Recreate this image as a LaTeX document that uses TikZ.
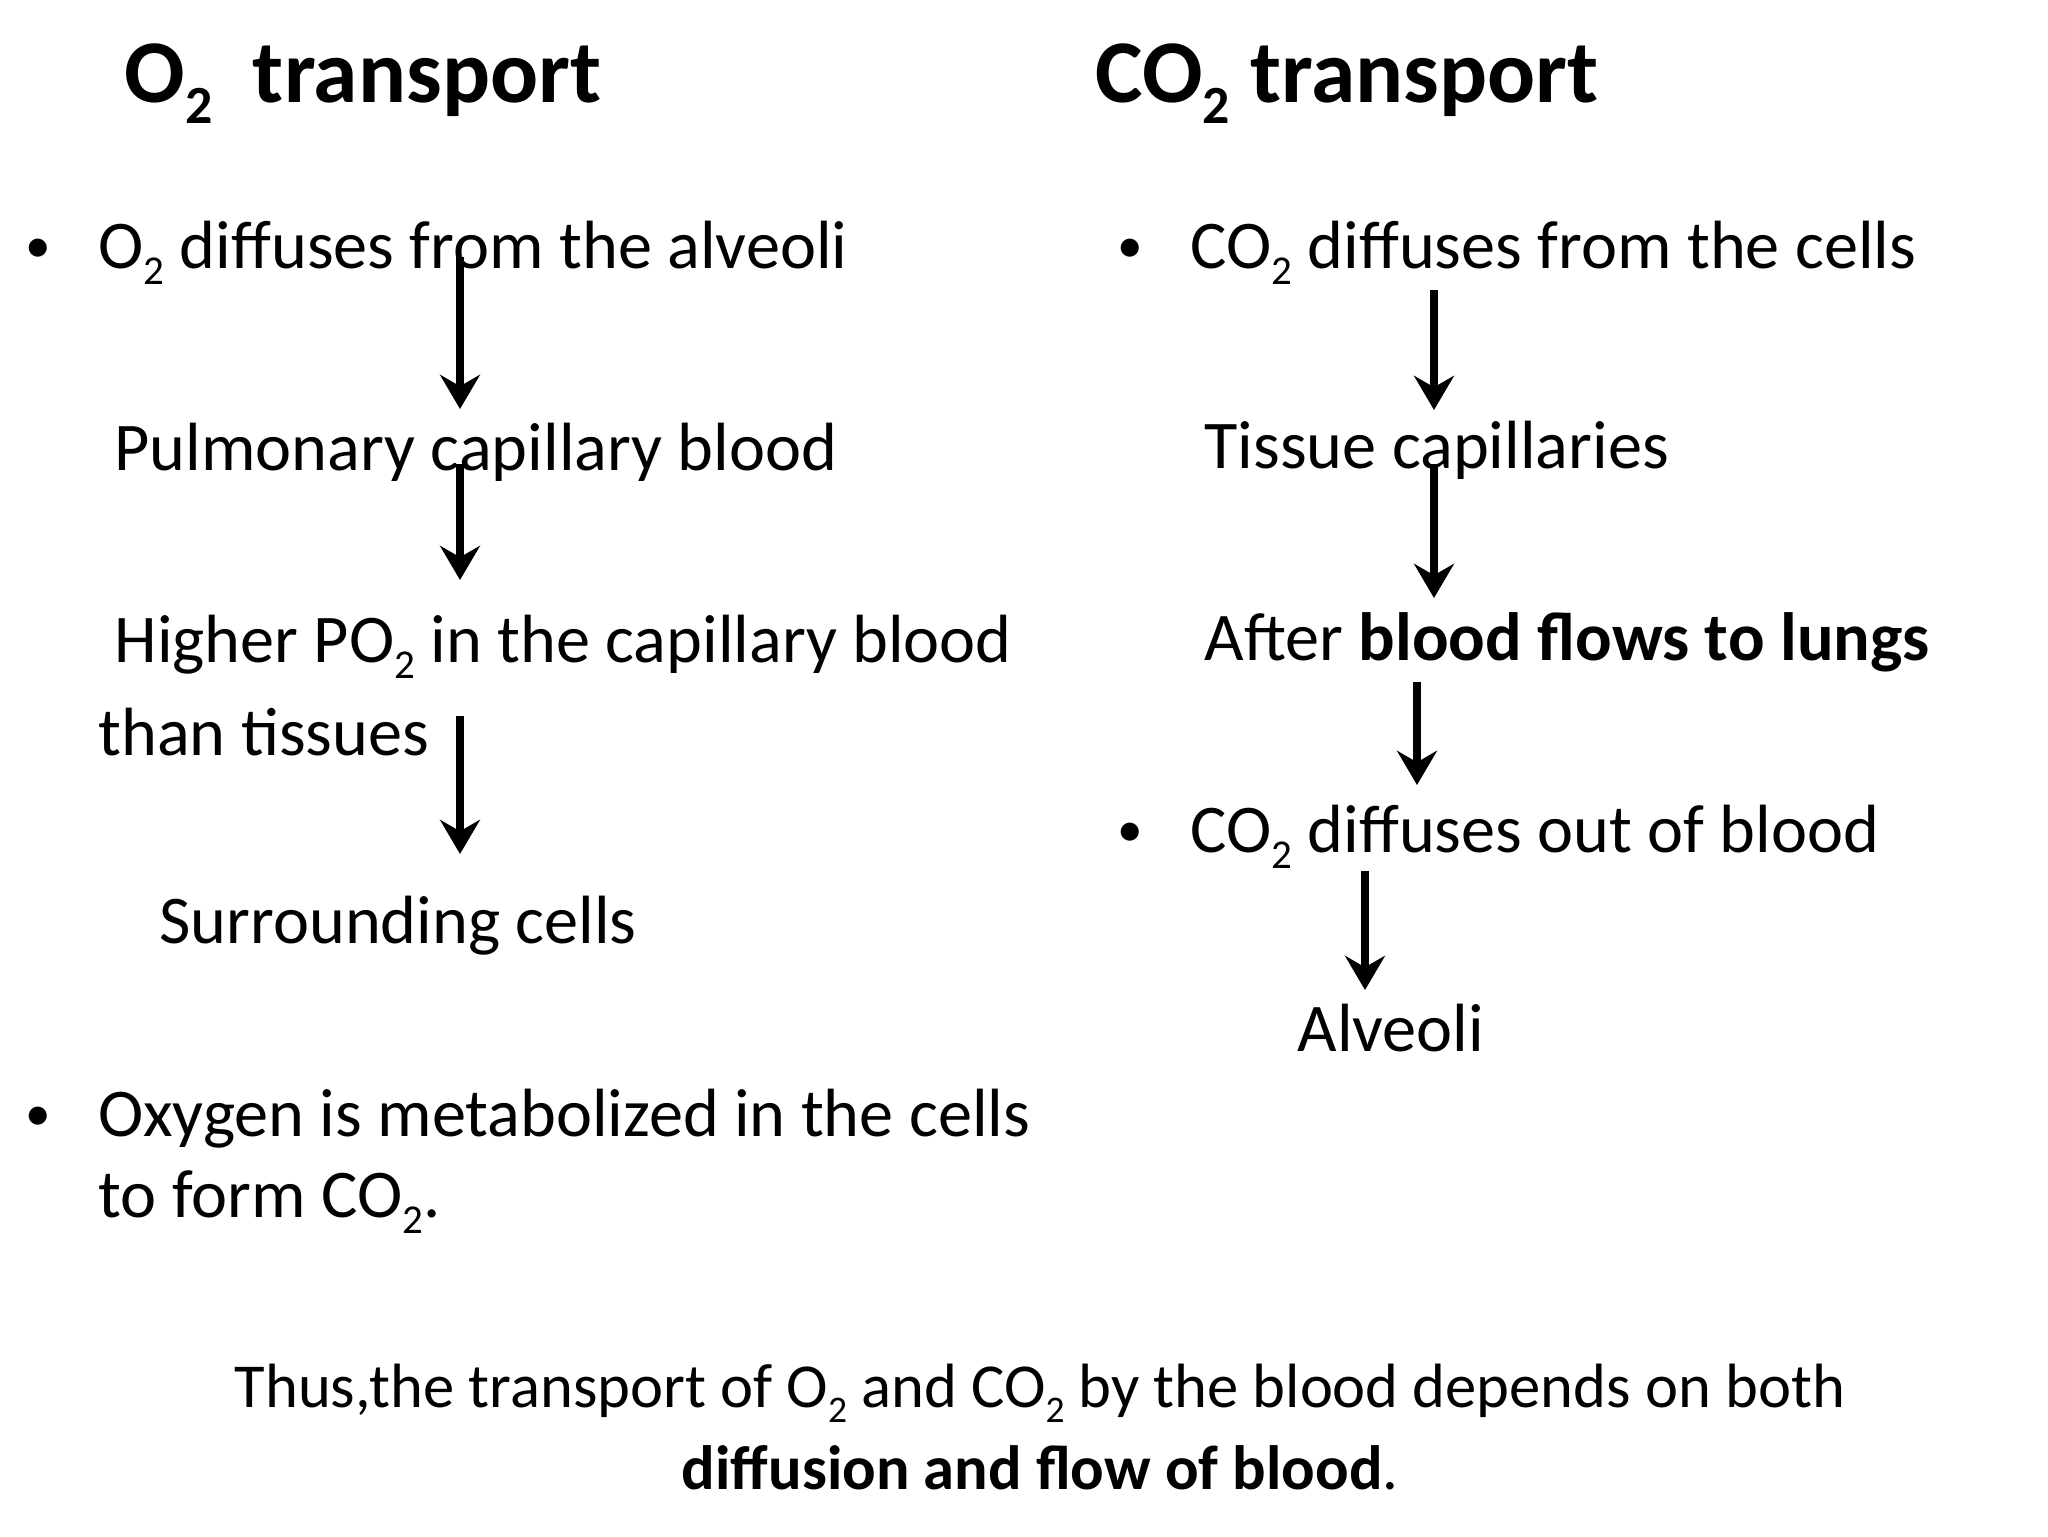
\documentclass[tikz,border=0pt]{standalone}
\usepackage{fontspec}
\setmainfont{Carlito}
\usetikzlibrary{arrows.meta}
\newcommand\sbb[1]{\raisebox{-0.24em}{\scalebox{0.6}{#1}}}
\tikzset{
  body/.style={anchor=base west,inner sep=0pt,font=\fontsize{24}{28.8}\selectfont},
  ttl/.style={anchor=base west,inner sep=0pt,font=\fontsize{31.5}{38}\selectfont\bfseries},
  bul/.style={anchor=base west,inner sep=0pt,font=\fontsize{18}{20}\selectfont},
  foot/.style={anchor=base,inner sep=0pt,font=\fontsize{22}{26.4}\selectfont},
  flow/.style={line width=2.8pt,-{Stealth[length=12pt,width=14pt,inset=4pt]}},
}
\newcommand\bl{\raisebox{2pt}{•}}
\begin{document}
\begin{tikzpicture}[x=0.3516pt,y=-0.3516pt]
\path[use as bounding box,fill=white] (0,0) rectangle (2048,1536);
% titles
\node[ttl] (t1) at (124,102) {O\sbb{2}\ \ transport};
\node[ttl] (t2) at (1095,102) {CO\sbb{2} transport};
% left column
\node[bul] (b1) at (25,268) {\bl};
\node[body] (l1) at (98,268) {O\sbb{2} diffuses from the alveoli};
\node[body] (l2) at (114,470) {Pulmonary capillary blood};
\node[body] (l3) at (114,662) {Higher PO\sbb{2} in the capillary blood};
\node[body] (l4) at (98,755) {than tissues};
\node[body] (l5) at (159,943) {Surrounding cells};
\node[bul] (b2) at (25,1136) {\bl};
\node[body] (l6) at (98,1136) {Oxygen is metabolized in the cells};
\node[body] (l7) at (98,1217) {to form CO\sbb{2}.};
\coordinate (a1s) at (460,257); \coordinate (a1e) at (460,409);
\coordinate (a2s) at (460,464); \coordinate (a2e) at (460,580);
\coordinate (a3s) at (460,716); \coordinate (a3e) at (460,854);
\draw[flow] (a1s) -- (a1e);
\draw[flow] (a2s) -- (a2e);
\draw[flow] (a3s) -- (a3e);
% right column
\node[bul] (b3) at (1117,268) {\bl};
\node[body] (r1) at (1190,268) {CO\sbb{2} diffuses from the cells};
\node[body] (r2) at (1204,468) {Tissue capillaries};
\node[body] (r3) at (1204,660) {After \textbf{blood flows to lungs}};
\node[bul] (b4) at (1117,852) {\bl};
\node[body] (r4) at (1190,852) {CO\sbb{2} diffuses out of blood};
\node[body] (r5) at (1297,1051) {Alveoli};
\coordinate (c1s) at (1434,290); \coordinate (c1e) at (1434,410);
\coordinate (c2s) at (1434,464); \coordinate (c2e) at (1434,598);
\coordinate (c3s) at (1417,682); \coordinate (c3e) at (1417,785);
\coordinate (c4s) at (1365,871); \coordinate (c4e) at (1365,990);
\draw[flow] (c1s) -- (c1e);
\draw[flow] (c2s) -- (c2e);
\draw[flow] (c3s) -- (c3e);
\draw[flow] (c4s) -- (c4e);
% bottom
\node[foot] (s1) at (1040,1407) {Thus,the transport of O\sbb{2} and CO\sbb{2} by the blood depends on both};
\node[foot] (s2) at (1040,1489) {\textbf{diffusion and flow of blood}.};
\end{tikzpicture}
\end{document}
